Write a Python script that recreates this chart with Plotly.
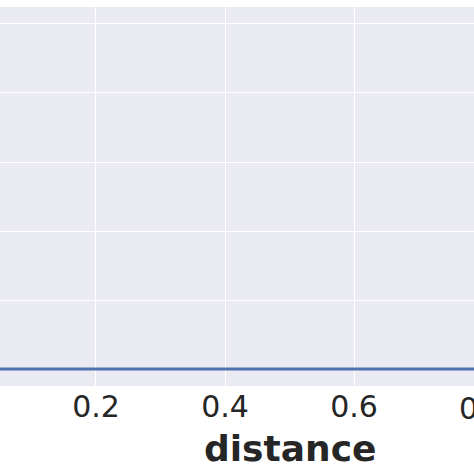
import plotly.graph_objects as go

# flat curve
distance = [0.0, 0.2, 0.4, 0.6, 0.8, 1.0]
value = [0, 0, 0, 0, 0, 0]

tick_vals = [0.2, 0.4, 0.6]
tick_text = ['0.2', '0.4', '0.6']
cut_tick = '0.8'
x_label = 'distance'

TEXT = '#262626'
FONT = 'DejaVu Sans'

x_range = [0.0512, 0.786]
y_range = [-0.246, 5.246]

fig = go.Figure()
fig.add_trace(go.Scatter(
    x=distance, y=value, mode='lines',
    line=dict(color='#4C72B0', width=3),
    showlegend=False,
))

fig.update_layout(
    width=474, height=474,
    margin=dict(l=0, r=0, t=7, b=88),
    paper_bgcolor='white',
    plot_bgcolor='#EAEAF2',
    font=dict(family=FONT, color=TEXT),
)
fig.update_xaxes(
    range=x_range, tickvals=tick_vals, ticktext=tick_text,
    tickfont=dict(size=30, color=TEXT, family=FONT),
    showgrid=True, gridcolor='white', gridwidth=1,
    zeroline=False, showline=False, ticks='',
)
fig.update_yaxes(
    range=y_range, dtick=1, showticklabels=False,
    showgrid=True, gridcolor='white', gridwidth=1,
    zeroline=False, showline=False,
)

# last tick label only half visible at right edge
fig.add_annotation(
    xref='paper', yref='paper',
    x=(0.8 - x_range[0]) / (x_range[1] - x_range[0]), y=0,
    yshift=-22, text=cut_tick, showarrow=False,
    font=dict(size=30, color=TEXT, family=FONT),
    xanchor='center', yanchor='middle',
)
fig.add_annotation(
    xref='x', yref='paper', x=0.5, y=0, yshift=-62,
    text='<b>' + x_label + '</b>', showarrow=False,
    font=dict(size=36, color=TEXT, family=FONT),
    xanchor='center', yanchor='middle',
)

fig.write_html('out.html', config={'displayModeBar': False},
               post_script="document.body.style.margin='0';")
